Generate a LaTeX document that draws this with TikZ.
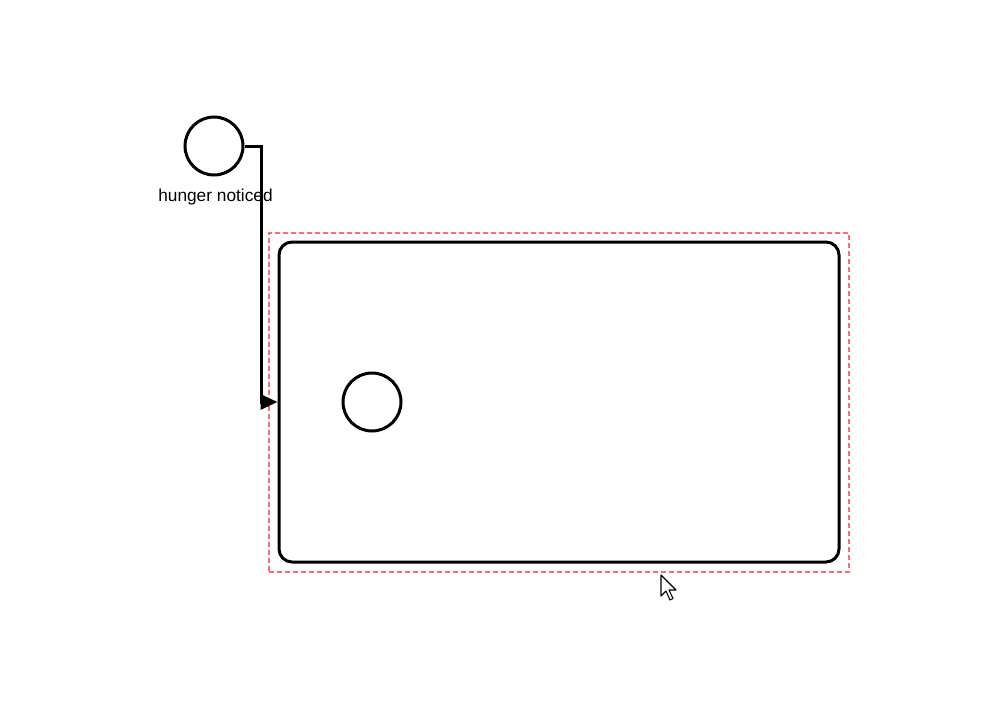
\documentclass[tikz,border=0pt]{standalone}
\usepackage{fontspec}
\setmainfont{Liberation Sans}
\usetikzlibrary{arrows.meta}
\definecolor{selred}{HTML}{FF6B78}
\begin{document}
\begin{tikzpicture}[x=1pt,y=-1pt,
  event/.style={circle,draw=black,line width=3pt,minimum size=58pt,inner sep=0pt},
  flow/.style={draw=black,line width=3pt,-{Triangle[length=17pt,width=15pt]}},
  lbl/.style={font=\fontsize{17.3}{20}\selectfont,text=black,inner sep=0pt}]
\useasboundingbox (0,0) rectangle (986,728);
\node[event] (start) at (214,146) {};
\node[lbl] (startlbl) at (215.5,197) {hunger noticed};
\node[draw=selred,line width=1.2pt,dash pattern=on 5pt off 3pt,minimum width=580pt,minimum height=339pt,inner sep=0pt] (sel) at (559,402.5) {};
\node[draw=black,line width=3pt,rounded corners=13pt,minimum width=560pt,minimum height=320pt,inner sep=0pt] (sub) at (559,402) {};
\node[event] (inner) at (372,402) {};
\coordinate (bend) at (261,146);
\draw[flow] (start.east) -- (bend) |- (sub.west);
\draw[fill=white,draw=black,line width=1.1pt,line join=round] (661,575) -- ++(0,21) -- ++(5,-5) -- ++(4,9) -- ++(3,-1.5) -- ++(-4,-8.5) -- ++(7,0) -- cycle;
\end{tikzpicture}
\end{document}
